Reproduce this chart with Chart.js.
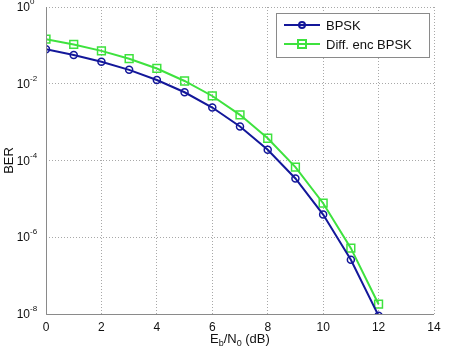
<!DOCTYPE html>
<html>
<head>
<meta charset="utf-8">
<script src="https://cdn.jsdelivr.net/npm/chart.js@4"></script>
<style>
    html, body { margin: 0; padding: 0; background: #fff; }
    #wrap { width: 474px; height: 353px; }
</style>
</head>
<body>
<div id="wrap"><canvas id="berChart" width="474" height="353"></canvas></div>
<script>
// Eb/N0 points (dB) and BER
const ebn0 = [0, 1, 2, 3, 4, 5, 6, 7, 8, 9, 10, 11, 12];
const berBpsk = [7.9e-2, 5.6e-2, 3.75e-2, 2.3e-2, 1.25e-2, 6.0e-3, 2.4e-3, 7.7e-4, 1.9e-4, 3.4e-5, 3.9e-6, 2.6e-7, 9.0e-9];
const berDiff = [1.45e-1, 1.06e-1, 7.2e-2, 4.5e-2, 2.5e-2, 1.18e-2, 4.8e-3, 1.55e-3, 3.8e-4, 6.7e-5, 7.7e-6, 5.2e-7, 1.8e-8];
const xTicks = [0, 2, 4, 6, 8, 10, 12, 14];
const yExponents = [0, -2, -4, -6, -8];

const blue = '#13179a';
const green = '#3ee23e';
const font = '"Liberation Sans", Arial, sans-serif';

// Draws tick labels, axis titles and the legend box
const labelsPlugin = {
    id: 'labelsPlugin',
    afterDraw(chart) {
        const ctx = chart.ctx;
        const xs = chart.scales.x;
        const ys = chart.scales.y;
        const area = chart.chartArea;
        ctx.save();
        ctx.fillStyle = '#111';

        // axis lines (left + bottom)
        ctx.strokeStyle = '#8a8a8a';
        ctx.lineWidth = 1;
        ctx.beginPath();
        ctx.moveTo(area.left + 0.5, area.top);
        ctx.lineTo(area.left + 0.5, area.bottom + 0.5);
        ctx.lineTo(area.right, area.bottom + 0.5);
        ctx.stroke();

        // x tick labels
        ctx.font = '12px ' + font;
        ctx.textAlign = 'center';
        ctx.textBaseline = 'alphabetic';
        xTicks.forEach(v => {
            ctx.fillText(String(v), xs.getPixelForValue(v), area.bottom + 17);
        });

        // y tick labels 10^n
        yExponents.forEach(e => {
            const y = ys.getPixelForValue(Math.pow(10, e));
            ctx.font = '12px ' + font;
            ctx.textAlign = 'right';
            ctx.fillText('10', area.left - 16, y + 4);
            ctx.font = '8px ' + font;
            ctx.textAlign = 'left';
            ctx.fillText(e === 0 ? '0' : '-' + Math.abs(e), area.left - 16, y - 3);
        });

        // x title: Eb/N0 (dB)
        let x = 210;
        const by = 343;
        const parts = [['E', 13, 0], ['b', 9, 3], ['/N', 13, 0], ['0', 9, 3], [' (dB)', 13, 0]];
        ctx.textAlign = 'left';
        parts.forEach(p => {
            ctx.font = p[1] + 'px ' + font;
            ctx.fillText(p[0], x, by + p[2]);
            x += ctx.measureText(p[0]).width;
        });

        // y title
        ctx.save();
        ctx.translate(13, (area.top + area.bottom) / 2);
        ctx.rotate(-Math.PI / 2);
        ctx.font = '13px ' + font;
        ctx.textAlign = 'center';
        ctx.fillText('BER', 0, 0);
        ctx.restore();

        // legend
        const lx = 276, ly = 13, lw = 153, lh = 44;
        ctx.fillStyle = '#fff';
        ctx.fillRect(lx, ly, lw, lh);
        ctx.strokeStyle = '#8a8a8a';
        ctx.strokeRect(lx + 0.5, ly + 0.5, lw, lh);
        const entries = [['BPSK', blue, 'circle', 25], ['Diff. enc BPSK', green, 'rect', 44]];
        entries.forEach(en => {
            ctx.strokeStyle = en[1];
            ctx.lineWidth = 2;
            ctx.beginPath();
            ctx.moveTo(284, en[3]);
            ctx.lineTo(320, en[3]);
            ctx.stroke();
            if (en[2] === 'circle') {
                ctx.beginPath();
                ctx.arc(302, en[3], 3, 0, Math.PI * 2);
                ctx.stroke();
            } else {
                ctx.strokeRect(298, en[3] - 4, 8, 8);
            }
            ctx.fillStyle = '#111';
            ctx.font = '13px ' + font;
            ctx.textAlign = 'left';
            ctx.fillText(en[0], 326, en[3] + 5);
        });
        ctx.restore();
    }
};

document.addEventListener('DOMContentLoaded', function() {
    const ctx = document.getElementById('berChart').getContext('2d');
    new Chart(ctx, {
        type: 'line',
        data: {
            datasets: [{
                label: 'BPSK',
                data: ebn0.map((v, i) => ({ x: v, y: berBpsk[i] })),
                borderColor: blue,
                backgroundColor: 'rgba(0,0,0,0)',
                borderWidth: 2,
                pointStyle: 'circle',
                pointRadius: 3.5,
                pointBorderWidth: 1.5,
                pointBorderColor: blue,
                pointBackgroundColor: 'rgba(0,0,0,0)',
                tension: 0,
                clip: 0
            }, {
                label: 'Diff. enc BPSK',
                data: ebn0.map((v, i) => ({ x: v, y: berDiff[i] })),
                borderColor: green,
                backgroundColor: 'rgba(0,0,0,0)',
                borderWidth: 2,
                pointStyle: 'rect',
                pointRadius: 5.5,
                pointBorderWidth: 1.5,
                pointBorderColor: green,
                pointBackgroundColor: 'rgba(0,0,0,0)',
                tension: 0,
                clip: 0
            }]
        },
        options: {
            responsive: false,
            animation: false,
            devicePixelRatio: 1,
            layout: { padding: { left: 46, right: 40, top: 7, bottom: 39 } },
            plugins: {
                legend: { display: false },
                tooltip: { enabled: false }
            },
            scales: {
                x: {
                    type: 'linear',
                    min: 0,
                    max: 14,
                    afterBuildTicks: axis => { axis.ticks = xTicks.map(v => ({ value: v })); },
                    ticks: { display: false },
                    border: { display: false, dash: [1, 2] },
                    grid: {
                        color: '#a8a8a8',
                        lineWidth: 1,
                        drawTicks: false
                    }
                },
                y: {
                    type: 'logarithmic',
                    min: 1e-8,
                    max: 1,
                    afterBuildTicks: axis => { axis.ticks = yExponents.map(e => ({ value: Math.pow(10, e) })); },
                    ticks: { display: false },
                    border: { display: false, dash: [1, 2] },
                    grid: {
                        color: '#a8a8a8',
                        lineWidth: 1,
                        drawTicks: false
                    }
                }
            }
        },
        plugins: [labelsPlugin]
    });
});
</script>
</body>
</html>
